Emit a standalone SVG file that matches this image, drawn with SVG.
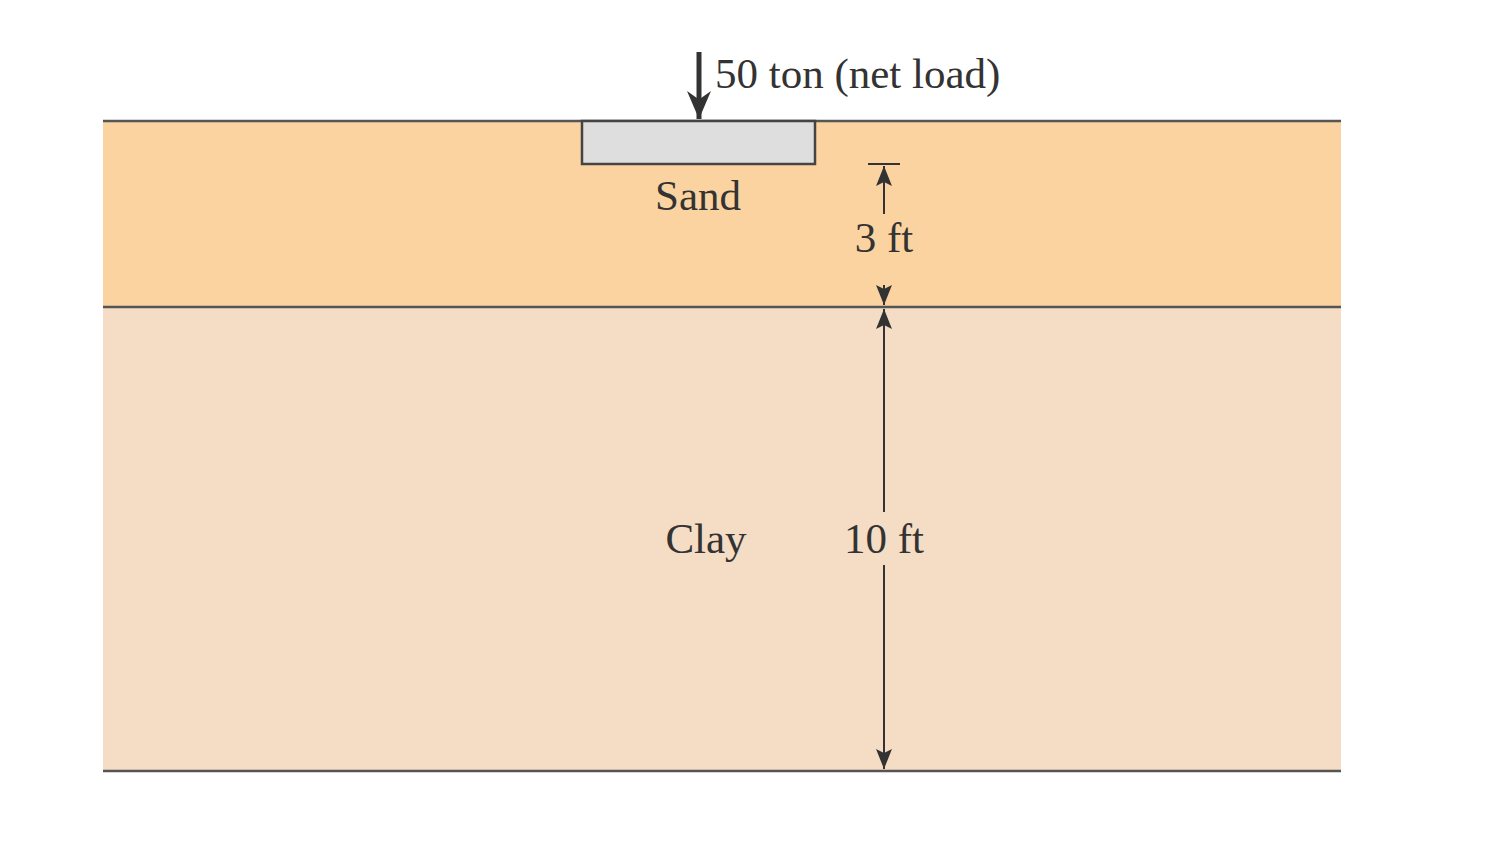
<svg xmlns="http://www.w3.org/2000/svg" width="1504" height="862" viewBox="0 0 1504 862">
<style>
text{font-family:'Liberation Serif','Times New Roman',serif;font-size:43px;fill:#333}
.ln{stroke:#555;stroke-width:2.5;fill:none}
.dim{stroke:#333;stroke-width:2;fill:none}
</style>
<defs>
<marker id="ahl" viewBox="0 0 10 10" refX="10" refY="5" markerWidth="20" markerHeight="16" markerUnits="userSpaceOnUse" orient="auto" preserveAspectRatio="none"><path d="M0,0 L10,5 L0,10 L2,5 z" fill="#333"/></marker>
<marker id="big" viewBox="0 0 10 10" refX="10" refY="5" markerWidth="28" markerHeight="24" markerUnits="userSpaceOnUse" orient="auto" preserveAspectRatio="none"><path d="M0,0 L10,5 L0,10 L3,5 z" fill="#333"/></marker>
</defs>
<rect width="1504" height="862" fill="#fff"/>
<g id="sand">
<rect x="103" y="121" width="1238" height="186" fill="#FAD3A1"/>
<text x="698" y="210" text-anchor="middle">Sand</text>
</g>
<g id="clay">
<rect x="103" y="307" width="1238" height="464" fill="#F5DCC4"/>
<text x="706" y="553" text-anchor="middle">Clay</text>
</g>
<g id="boundaries">
<line class="ln" x1="103" y1="121" x2="1341" y2="121"/>
<line class="ln" x1="103" y1="307" x2="1341" y2="307"/>
<line class="ln" x1="103" y1="771" x2="1341" y2="771"/>
</g>
<g id="footing">
<rect x="582" y="121" width="233" height="43" fill="#DEDEDE" stroke="#444" stroke-width="2.5"/>
</g>
<g id="load">
<line x1="699" y1="52" x2="699" y2="119" stroke="#333" stroke-width="5" marker-end="url(#big)"/>
<text x="715" y="88">50 ton (net load)</text>
</g>
<g id="connectors">
<line class="dim" x1="868" y1="164" x2="900" y2="164"/>
<line class="dim" x1="884" y1="214" x2="884" y2="166" marker-end="url(#ahl)"/>
<text x="884" y="252" text-anchor="middle">3 ft</text>
<line class="dim" x1="884" y1="285" x2="884" y2="305" marker-end="url(#ahl)"/>
<line class="dim" x1="884" y1="512" x2="884" y2="309" marker-end="url(#ahl)"/>
<text x="884" y="553" text-anchor="middle">10 ft</text>
<line class="dim" x1="884" y1="565" x2="884" y2="769" marker-end="url(#ahl)"/>
</g>
</svg>
